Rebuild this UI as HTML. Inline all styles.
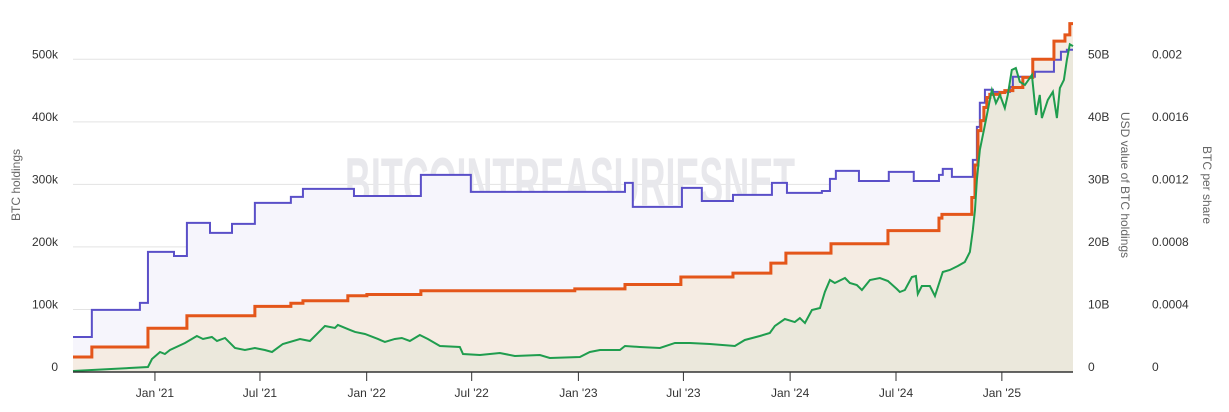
<!DOCTYPE html>
<html><head><meta charset="utf-8"><style>
html,body{margin:0;padding:0;background:#fff;}
svg{display:block;font-family:"Liberation Sans",sans-serif;}
</style></head><body>
<svg id="chart" width="1229" height="412" viewBox="0 0 1229 412" xmlns="http://www.w3.org/2000/svg"></svg>
<script>
// ---- data ----
const xTickLabels = ["Jan '21","Jul '21","Jan '22","Jul '22","Jan '23","Jul '23","Jan '24","Jul '24","Jan '25"];
const xTickTimes = [2021.0,2021.496,2022.0,2022.496,2023.0,2023.496,2024.0,2024.5,2025.0];
const leftTicks = [0,100,200,300,400,500];
const leftTickLabels = ["0","100k","200k","300k","400k","500k"];
const midTickLabels = ["0","10B","20B","30B","40B","50B"];
const rightTickLabels = ["0","0.0004","0.0008","0.0012","0.0016","0.002"];

// BTC holdings (thousand BTC), step series
const holdT = [2020.613,2020.702,2020.967,2021.151,2021.472,2021.642,2021.699,2021.911,2022.001,2022.256,2022.983,2023.220,2023.484,2023.730,2023.909,2023.980,2024.193,2024.462,2024.703,2024.717,2024.858,2024.873,2024.887,2024.901,2024.915,2024.929,2024.943,2024.991,2025.014,2025.052,2025.099,2025.146,2025.246,2025.298,2025.321];
const holdV = [24,40,70,90,105,110,114,122,124,130,133,140,152,158,174,190,205,226,246,252,279,331,386,402,423,439,444,447,450,455,471,500,529,539,557];

// BTC per share, step series
const shareT = [2020.613,2020.702,2020.929,2020.967,2021.090,2021.151,2021.260,2021.364,2021.472,2021.642,2021.699,2021.940,2022.256,2022.492,2023.220,2023.257,2023.489,2023.583,2023.730,2023.914,2023.985,2024.098,2024.150,2024.188,2024.216,2024.325,2024.466,2024.584,2024.703,2024.721,2024.764,2024.863,2024.882,2024.896,2024.920,2024.958,2025.038,2025.052,2025.156,2025.246,2025.279,2025.307];
const shareV = [0.000224,0.000397,0.000442,0.000768,0.000742,0.000954,0.000890,0.000947,0.001082,0.00112,0.001171,0.001126,0.001261,0.001152,0.00121,0.001056,0.001178,0.001094,0.001133,0.00121,0.001146,0.001146,0.001158,0.001235,0.001286,0.001222,0.00128,0.001222,0.001261,0.001299,0.001248,0.001357,0.001568,0.001722,0.001805,0.001792,0.001824,0.001888,0.00192,0.001997,0.002048,0.002061];

// USD value of BTC holdings (billions)
const usdT = [2020.613,2020.702,2020.967,2020.986,2021.024,2021.047,2021.071,2021.142,2021.198,2021.227,2021.269,2021.293,2021.331,2021.378,2021.425,2021.472,2021.519,2021.553,2021.604,2021.685,2021.732,2021.770,2021.803,2021.850,2021.864,2021.921,2021.945,2021.992,2022.053,2022.086,2022.133,2022.166,2022.204,2022.251,2022.289,2022.346,2022.440,2022.455,2022.535,2022.629,2022.700,2022.818,2022.865,2023.007,2023.054,2023.102,2023.196,2023.220,2023.290,2023.385,2023.456,2023.527,2023.621,2023.739,2023.786,2023.857,2023.904,2023.928,2023.975,2024.022,2024.046,2024.070,2024.103,2024.141,2024.164,2024.188,2024.211,2024.259,2024.282,2024.315,2024.339,2024.377,2024.424,2024.462,2024.504,2024.518,2024.542,2024.575,2024.594,2024.603,2024.622,2024.660,2024.684,2024.721,2024.754,2024.792,2024.825,2024.849,2024.863,2024.873,2024.882,2024.896,2024.920,2024.934,2024.943,2024.953,2024.972,2024.991,2025.014,2025.028,2025.047,2025.066,2025.085,2025.109,2025.142,2025.161,2025.179,2025.189,2025.217,2025.241,2025.260,2025.274,2025.293,2025.307,2025.321,2025.336];
const usdV = [0.16,0.32,0.8,2.08,3.2,2.88,3.52,4.64,5.76,5.28,5.6,4.96,5.44,3.84,3.52,3.84,3.52,3.2,4.48,5.28,4.96,6.24,7.36,7.04,7.52,6.72,6.4,6.08,5.28,4.8,5.28,5.44,4.96,5.92,5.28,4.16,4.0,2.88,2.72,3.04,2.56,2.72,2.24,2.4,3.2,3.52,3.52,4.16,4.0,3.84,4.64,4.64,4.48,4.16,5.12,5.76,6.24,7.36,8.47,7.99,8.63,7.83,9.91,10.23,12.79,14.71,14.23,15.03,14.23,13.91,13.11,14.71,15.03,14.55,13.27,12.79,13.11,15.19,15.35,12.47,13.75,13.75,12.15,15.99,16.31,16.95,17.59,19.19,22.71,25.9,30.7,35.5,39.5,41.9,43.5,45.1,43.0,44.3,42.2,44.3,48.3,48.6,46.4,45.9,47.5,41.1,44.3,40.6,43.5,44.8,40.6,45.4,46.7,49.9,52.4,52.1];

// ---- scales ----
const X0=73, X1=1073, Y0=372, Y500=59.3;
const T0=2020.613, T1=2025.336;
const xs = t => X0 + (t-T0)/(T1-T0)*(X1-X0);
const yLeft = v => Y0 - v/500*(Y0-Y500);
const yUsd = v => Y0 - v/50*(Y0-Y500);
const yShare = v => Y0 - v/0.002*(Y0-Y500);

const svg = document.getElementById('chart');
const NS = "http://www.w3.org/2000/svg";
function mk(tag, attrs, parent){
  const e=document.createElementNS(NS,tag);
  for(const k in attrs) e.setAttribute(k,attrs[k]);
  (parent||svg).appendChild(e); return e;
}

// gridlines
leftTicks.forEach((v,i)=>{
  if(i===0) return;
  const g = mk('line',{x1:X0,x2:X1,y1:yLeft(v),y2:yLeft(v),stroke:'#e3e3e3','stroke-width':1});
  
  
});

// watermark
const wm = mk('text',{x:345,y:205,'font-size':68,'font-weight':'bold',fill:'#e8e8ec',textLength:450,lengthAdjust:'spacingAndGlyphs'});
wm.textContent='BITCOINTREASURIESNET';



function stepPath(T,V,ys){
  let d='';
  for(let i=0;i<T.length;i++){
    const x=xs(T[i]), y=ys(V[i]);
    if(i===0) d+='M'+x+','+y;
    else d+='L'+x+','+ys(V[i-1])+'L'+x+','+y;
  }
  d+='L'+X1+','+ys(V[V.length-1]);
  return d;
}
function linePath(T,V,ys){
  return T.map((t,i)=>(i?'L':'M')+xs(t)+','+ys(V[i])).join('');
}
function area(d){ return d+'L'+X1+','+Y0+'L'+X0+','+Y0+'Z'; }

const shareD = stepPath(shareT,shareV,yShare);
const holdD = stepPath(holdT,holdV,yLeft);
const usdD = linePath(usdT,usdV,yUsd);

const a1=mk('path',{d:area(shareD),fill:'#f6f5fc'});


const a2=mk('path',{d:area(holdD),fill:'#f5ece3'});


const a3=mk('path',{d:area(usdD+'L'+X1+','+yUsd(usdV[usdV.length-1])),fill:'#ebe8dc'});



const l1=mk('path',{d:shareD,fill:'none',stroke:'#5a4fc8','stroke-width':2});


const l2=mk('path',{d:holdD,fill:'none',stroke:'#e4561a','stroke-width':3});


const l3=mk('path',{d:usdD,fill:'none',stroke:'#1f9d4e','stroke-width':2});



// x axis
const ax=mk('line',{x1:X0,x2:X1,y1:Y0,y2:Y0,stroke:'#333','stroke-width':1.5});


xTickTimes.forEach((t,i)=>{
  const x=xs(t);
  const tk=mk('line',{x1:x,x2:x,y1:Y0,y2:Y0+9,stroke:'#333','stroke-width':1});
  
  
  const lb=mk('text',{x:x,y:397,'font-size':12,fill:'#333','text-anchor':'middle'});
  lb.textContent=xTickLabels[i];
  
  
});

// y labels
leftTicks.forEach((v,i)=>{
  const y=yLeft(v)-1;
  const a=mk('text',{x:58,y:y,'font-size':12,fill:'#333','text-anchor':'end'});
  a.textContent=leftTickLabels[i];
  
  
  const b=mk('text',{x:1088,y:y,'font-size':12,fill:'#333'});
  b.textContent=midTickLabels[i];
  
  
  const c=mk('text',{x:1152,y:y,'font-size':12,fill:'#333'});
  c.textContent=rightTickLabels[i];
  
  
});

// axis titles
const t1=mk('text',{x:0,y:0,'font-size':12,fill:'#666','text-anchor':'middle',transform:'translate(20,185) rotate(-90)'});
t1.textContent='BTC holdings';


const t2=mk('text',{x:0,y:0,'font-size':12,fill:'#666','text-anchor':'middle',transform:'translate(1121,185) rotate(90)'});
t2.textContent='USD value of BTC holdings';


const t3=mk('text',{x:0,y:0,'font-size':12,fill:'#666','text-anchor':'middle',transform:'translate(1203,185) rotate(90)'});
t3.textContent='BTC per share';


</script>
</body></html>
